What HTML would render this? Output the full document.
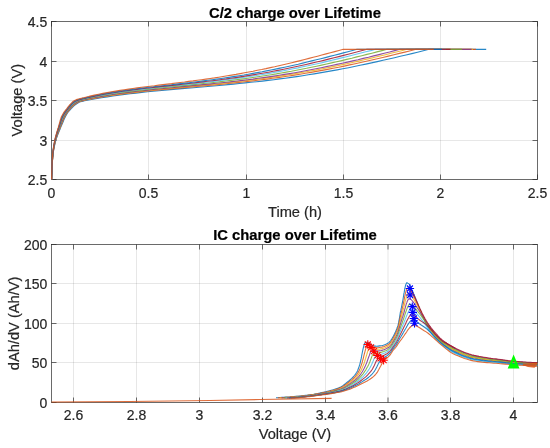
<!DOCTYPE html>
<html><head><meta charset="utf-8"><title>C/2 charge and IC charge over Lifetime</title>
<style>html,body{margin:0;padding:0;background:#fff;overflow:hidden}svg{display:block}</style></head>
<body>
<svg width="550" height="448" viewBox="0 0 550 448">
<rect width="550" height="448" fill="#fff"/>
<path d="M148.5 21.5V179.5M246.5 21.5V179.5M343.5 21.5V179.5M440.5 21.5V179.5M51.5 140.5H537.5M51.5 100.5H537.5M51.5 61.5H537.5" stroke="#262626" stroke-opacity="0.11" stroke-width="1" fill="none"/>
<path d="M73.5 244.5V402.5M136.5 244.5V402.5M199.5 244.5V402.5M262.5 244.5V402.5M325.5 244.5V402.5M388 244.5V402.5M450.5 244.5V402.5M513.5 244.5V402.5M51.5 362.5H537.5M51.5 323.5H537.5M51.5 283.5H537.5" stroke="#262626" stroke-opacity="0.11" stroke-width="1" fill="none"/>
<path d="M51.5 179.5v-5M51.5 21.5v5M148.5 179.5v-5M148.5 21.5v5M246.5 179.5v-5M246.5 21.5v5M343.5 179.5v-5M343.5 21.5v5M440.5 179.5v-5M440.5 21.5v5M537.5 179.5v-5M537.5 21.5v5M51.5 179.5h5M537.5 179.5h-5M51.5 140.5h5M537.5 140.5h-5M51.5 100.5h5M537.5 100.5h-5M51.5 61.5h5M537.5 61.5h-5M51.5 21.5h5M537.5 21.5h-5" stroke="#262626" stroke-width="0.68" fill="none"/>
<path d="M73.5 402.5v-5M73.5 244.5v5M136.5 402.5v-5M136.5 244.5v5M199.5 402.5v-5M199.5 244.5v5M262.5 402.5v-5M262.5 244.5v5M325.5 402.5v-5M325.5 244.5v5M388 402.5v-5M388 244.5v5M450.5 402.5v-5M450.5 244.5v5M513.5 402.5v-5M513.5 244.5v5M51.5 402.5h5M537.5 402.5h-5M51.5 362.5h5M537.5 362.5h-5M51.5 323.5h5M537.5 323.5h-5M51.5 283.5h5M537.5 283.5h-5M51.5 244.5h5M537.5 244.5h-5" stroke="#262626" stroke-width="0.68" fill="none"/>
<rect x="51.5" y="21.5" width="486" height="158" stroke="#262626" stroke-width="0.68" fill="none"/>
<rect x="51.5" y="244.5" width="486" height="158" stroke="#262626" stroke-width="0.68" fill="none"/>
<g fill="none" stroke-width="1.15" stroke-opacity="0.85" stroke-linejoin="round" stroke-linecap="butt">
<path d="M51.6 179.5 51.7 178.1 51.7 176.7 51.8 175.3 51.8 173.9 51.9 172.5 51.9 171.1 52.0 169.7 52.0 168.3 52.1 166.9 52.2 165.5 52.3 164.1 52.3 162.8 52.4 161.4 52.5 160.0 52.7 158.6 52.8 157.2 52.9 155.8 53.1 154.4 53.2 153.0 53.4 151.6 53.6 150.2 53.8 148.9 54.1 147.5 54.4 146.1 54.7 144.8 55.0 143.4 55.3 142.0 55.7 140.7 56.1 139.4 56.5 138.0 57.0 136.7 57.5 135.4 58.0 134.1 58.5 132.8 59.0 131.5 59.5 130.2 60.1 128.9 60.6 127.6 61.1 126.3 61.7 125.0 62.2 123.8 62.8 122.5 63.3 121.2 63.8 119.9 64.4 118.6 65.0 117.4 65.7 116.1 66.3 114.9 67.0 113.7 67.8 112.5 68.7 111.4 69.6 110.4 70.5 109.3 71.5 108.3 72.4 107.3 73.4 106.3 74.5 105.4 75.6 104.5 76.7 103.7 77.9 103.0 79.1 102.3 80.4 101.8 81.8 101.4 83.1 101.1 84.5 100.8 85.9 100.5 87.2 100.3 88.6 100.0 90.0 99.8 95.7 98.8 101.5 97.8 107.2 96.9 113.0 96.0 118.7 95.2 124.5 94.4 130.2 93.7 136.0 93.1 141.7 92.4 147.5 91.8 153.2 91.2 158.9 90.7 164.7 90.2 170.4 89.6 176.2 89.1 181.9 88.6 187.7 88.2 193.4 87.7 199.2 87.2 204.9 86.7 210.7 86.2 216.4 85.7 222.2 85.2 227.9 84.6 233.6 84.1 239.4 83.5 245.1 82.9 250.9 82.3 256.6 81.7 262.4 81.1 268.1 80.4 273.9 79.7 279.6 78.9 285.4 78.2 291.1 77.4 296.8 76.6 302.6 75.7 308.3 74.8 314.1 73.9 319.8 72.9 325.6 71.9 331.3 70.9 337.1 69.9 342.8 68.8 348.6 67.7 354.3 66.5 360.1 65.3 365.8 64.1 371.5 62.9 377.3 61.6 383.0 60.3 388.8 59.0 394.5 57.7 400.3 56.3 406.0 55.0 411.8 53.6 417.5 52.2 423.3 50.7 429.0 49.3 486.2 49.3" stroke="#0072BD"/>
<path d="M51.6 179.5 51.7 178.1 51.7 176.7 51.8 175.3 51.8 173.9 51.9 172.5 51.9 171.1 52.0 169.7 52.0 168.2 52.1 166.8 52.1 165.4 52.2 164.0 52.3 162.6 52.4 161.2 52.5 159.8 52.6 158.4 52.7 157.0 52.9 155.6 53.0 154.2 53.2 152.8 53.3 151.4 53.6 150.0 53.8 148.6 54.0 147.3 54.3 145.9 54.6 144.5 54.9 143.1 55.3 141.8 55.6 140.4 56.0 139.0 56.4 137.7 56.9 136.4 57.3 135.0 57.8 133.7 58.3 132.4 58.8 131.1 59.3 129.8 59.8 128.5 60.4 127.2 60.9 125.9 61.4 124.6 61.9 123.2 62.4 121.9 63.0 120.6 63.5 119.3 64.1 118.1 64.7 116.8 65.4 115.6 66.1 114.3 66.8 113.1 67.6 112.0 68.5 110.9 69.4 109.8 70.3 108.7 71.3 107.7 72.2 106.7 73.2 105.7 74.3 104.8 75.4 103.9 76.6 103.1 77.8 102.4 79.1 101.8 80.4 101.3 81.7 101.0 83.1 100.6 84.5 100.3 85.9 100.0 87.2 99.8 88.6 99.5 90.0 99.2 95.5 98.2 101.1 97.2 106.6 96.3 112.1 95.5 117.6 94.7 123.2 93.9 128.7 93.2 134.2 92.6 139.7 91.9 145.3 91.3 150.8 90.7 156.3 90.2 161.8 89.6 167.4 89.1 172.9 88.6 178.4 88.1 183.9 87.6 189.5 87.1 195.0 86.6 200.5 86.1 206.0 85.6 211.6 85.1 217.1 84.6 222.6 84.1 228.1 83.5 233.7 82.9 239.2 82.4 244.7 81.7 250.2 81.1 255.8 80.5 261.3 79.8 266.8 79.1 272.3 78.3 277.9 77.6 283.4 76.8 288.9 76.0 294.4 75.1 300.0 74.2 305.5 73.3 311.0 72.4 316.5 71.4 322.1 70.4 327.6 69.4 333.1 68.3 338.6 67.2 344.2 66.1 349.7 64.9 355.2 63.7 360.7 62.5 366.3 61.3 371.8 60.0 377.3 58.8 382.8 57.5 388.4 56.1 393.9 54.8 399.4 53.4 404.9 52.1 410.5 50.7 416.0 49.3 476.0 49.3" stroke="#D95319"/>
<path d="M51.6 179.5 51.6 178.1 51.7 176.7 51.7 175.3 51.8 173.8 51.8 172.4 51.9 171.0 51.9 169.6 52.0 168.2 52.1 166.8 52.1 165.4 52.2 164.0 52.3 162.5 52.4 161.1 52.5 159.7 52.6 158.3 52.7 156.9 52.8 155.5 53.0 154.1 53.1 152.7 53.3 151.3 53.5 149.9 53.7 148.5 54.0 147.1 54.3 145.7 54.6 144.3 54.9 142.9 55.2 141.6 55.5 140.2 55.9 138.8 56.3 137.5 56.8 136.1 57.2 134.8 57.7 133.5 58.2 132.1 58.7 130.8 59.2 129.5 59.7 128.2 60.2 126.9 60.7 125.5 61.2 124.2 61.7 122.9 62.2 121.6 62.7 120.3 63.3 119.0 63.9 117.7 64.5 116.4 65.2 115.2 65.9 114.0 66.7 112.8 67.5 111.6 68.4 110.5 69.3 109.4 70.2 108.3 71.1 107.3 72.1 106.3 73.1 105.3 74.2 104.3 75.3 103.5 76.5 102.7 77.7 102.0 79.0 101.5 80.3 101.0 81.7 100.6 83.1 100.3 84.5 100.0 85.8 99.7 87.2 99.4 88.6 99.1 90.0 98.9 95.4 97.8 100.7 96.9 106.1 96.0 111.5 95.1 116.9 94.3 122.2 93.6 127.6 92.9 133.0 92.2 138.4 91.6 143.7 91.0 149.1 90.4 154.5 89.8 159.8 89.3 165.2 88.8 170.6 88.2 176.0 87.7 181.3 87.2 186.7 86.7 192.1 86.2 197.5 85.7 202.8 85.2 208.2 84.7 213.6 84.2 218.9 83.7 224.3 83.1 229.7 82.5 235.1 81.9 240.4 81.3 245.8 80.7 251.2 80.0 256.6 79.4 261.9 78.7 267.3 77.9 272.7 77.2 278.1 76.4 283.4 75.6 288.8 74.7 294.2 73.9 299.5 72.9 304.9 72.0 310.3 71.0 315.7 70.1 321.0 69.0 326.4 68.0 331.8 66.9 337.2 65.8 342.5 64.6 347.9 63.5 353.3 62.3 358.6 61.1 364.0 59.8 369.4 58.6 374.8 57.3 380.1 56.0 385.5 54.7 390.9 53.3 396.3 52.0 401.6 50.7 407.0 49.3 473.0 49.3" stroke="#EDB120"/>
<path d="M51.6 179.5 51.6 178.1 51.7 176.7 51.7 175.2 51.8 173.8 51.8 172.4 51.9 171.0 51.9 169.6 52.0 168.1 52.0 166.7 52.1 165.3 52.2 163.9 52.3 162.5 52.4 161.1 52.5 159.6 52.6 158.2 52.7 156.8 52.8 155.4 53.0 154.0 53.1 152.6 53.3 151.2 53.5 149.8 53.7 148.4 54.0 147.0 54.2 145.6 54.5 144.2 54.8 142.8 55.1 141.4 55.5 140.0 55.9 138.7 56.3 137.3 56.7 136.0 57.2 134.6 57.6 133.3 58.1 131.9 58.6 130.6 59.1 129.3 59.6 127.9 60.1 126.6 60.6 125.3 61.1 124.0 61.5 122.6 62.0 121.3 62.6 120.0 63.1 118.7 63.7 117.4 64.4 116.1 65.0 114.9 65.8 113.7 66.6 112.5 67.4 111.3 68.2 110.2 69.1 109.1 70.1 108.0 71.0 107.0 72.0 105.9 73.0 104.9 74.1 104.0 75.2 103.2 76.4 102.4 77.7 101.8 79.0 101.2 80.3 100.7 81.7 100.4 83.1 100.0 84.4 99.7 85.8 99.4 87.2 99.1 88.6 98.8 90.0 98.5 95.3 97.5 100.5 96.6 105.8 95.7 111.0 94.8 116.3 94.0 121.5 93.3 126.8 92.6 132.0 91.9 137.3 91.3 142.5 90.7 147.8 90.1 153.1 89.5 158.3 89.0 163.6 88.5 168.8 88.0 174.1 87.5 179.3 86.9 184.6 86.4 189.8 85.9 195.1 85.4 200.3 84.9 205.6 84.4 210.8 83.9 216.1 83.3 221.4 82.8 226.6 82.2 231.9 81.6 237.1 81.0 242.4 80.4 247.6 79.7 252.9 79.1 258.1 78.3 263.4 77.6 268.6 76.9 273.9 76.1 279.2 75.3 284.4 74.4 289.7 73.6 294.9 72.7 300.2 71.7 305.4 70.8 310.7 69.8 315.9 68.8 321.2 67.7 326.4 66.6 331.7 65.5 336.9 64.4 342.2 63.3 347.5 62.1 352.7 60.9 358.0 59.7 363.2 58.4 368.5 57.2 373.7 55.9 379.0 54.6 384.2 53.3 389.5 52.0 394.7 50.6 400.0 49.3 471.6 49.3" stroke="#7E2F8E"/>
<path d="M51.6 179.5 51.6 178.1 51.7 176.6 51.7 175.2 51.8 173.8 51.8 172.4 51.9 170.9 51.9 169.5 52.0 168.1 52.0 166.6 52.1 165.2 52.2 163.8 52.2 162.4 52.3 160.9 52.4 159.5 52.5 158.1 52.6 156.6 52.8 155.2 52.9 153.8 53.1 152.4 53.2 151.0 53.4 149.5 53.7 148.1 53.9 146.7 54.2 145.3 54.4 143.9 54.7 142.5 55.1 141.1 55.4 139.7 55.8 138.4 56.2 137.0 56.6 135.6 57.0 134.3 57.5 132.9 58.0 131.5 58.4 130.2 58.9 128.9 59.4 127.5 59.9 126.2 60.3 124.8 60.8 123.5 61.2 122.1 61.7 120.8 62.2 119.4 62.8 118.1 63.4 116.8 64.1 115.6 64.8 114.3 65.5 113.1 66.3 111.9 67.2 110.8 68.1 109.6 69.0 108.5 69.9 107.4 70.8 106.4 71.8 105.3 72.8 104.3 73.9 103.4 75.1 102.6 76.3 101.8 77.6 101.2 78.9 100.7 80.3 100.2 81.6 99.9 83.0 99.5 84.4 99.2 85.8 98.9 87.2 98.6 88.6 98.3 90.0 98.0 95.0 97.0 100.1 96.0 105.1 95.1 110.1 94.3 115.2 93.5 120.2 92.8 125.2 92.1 130.3 91.4 135.3 90.8 140.3 90.2 145.4 89.6 150.4 89.0 155.4 88.5 160.5 88.0 165.5 87.4 170.5 86.9 175.6 86.4 180.6 85.9 185.6 85.4 190.7 84.9 195.7 84.4 200.7 83.8 205.8 83.3 210.8 82.8 215.8 82.2 220.9 81.6 225.9 81.0 230.9 80.4 236.0 79.8 241.0 79.1 246.1 78.5 251.1 77.8 256.1 77.0 261.2 76.3 266.2 75.5 271.2 74.7 276.3 73.9 281.3 73.0 286.3 72.1 291.4 71.2 296.4 70.2 301.4 69.3 306.5 68.3 311.5 67.2 316.5 66.2 321.6 65.1 326.6 64.0 331.6 62.9 336.7 61.7 341.7 60.6 346.7 59.4 351.8 58.2 356.8 56.9 361.8 55.7 366.9 54.4 371.9 53.2 376.9 51.9 382.0 50.6 387.0 49.3 462.0 49.3" stroke="#77AC30"/>
<path d="M51.6 179.5 51.6 178.1 51.7 176.6 51.7 175.2 51.8 173.7 51.8 172.3 51.9 170.9 51.9 169.4 52.0 168.0 52.0 166.6 52.1 165.1 52.1 163.7 52.2 162.2 52.3 160.8 52.4 159.4 52.5 157.9 52.6 156.5 52.7 155.1 52.9 153.6 53.0 152.2 53.2 150.8 53.4 149.4 53.6 147.9 53.9 146.5 54.1 145.1 54.4 143.7 54.7 142.3 55.0 140.9 55.3 139.5 55.7 138.1 56.1 136.7 56.5 135.3 56.9 133.9 57.4 132.6 57.8 131.2 58.3 129.8 58.7 128.5 59.2 127.1 59.7 125.8 60.1 124.4 60.5 123.0 61.0 121.7 61.4 120.3 61.9 119.0 62.5 117.6 63.1 116.3 63.8 115.1 64.5 113.8 65.3 112.6 66.1 111.5 67.0 110.3 67.9 109.2 68.8 108.0 69.7 106.9 70.7 105.9 71.6 104.8 72.7 103.8 73.8 102.8 74.9 102.0 76.2 101.3 77.5 100.7 78.8 100.2 80.2 99.8 81.6 99.4 83.0 99.1 84.4 98.8 85.8 98.5 87.2 98.1 88.6 97.8 90.0 97.5 94.8 96.5 99.7 95.6 104.5 94.7 109.4 93.9 114.2 93.1 119.0 92.3 123.9 91.6 128.7 91.0 133.6 90.3 138.4 89.7 143.2 89.1 148.1 88.6 152.9 88.0 157.7 87.5 162.6 87.0 167.4 86.4 172.3 85.9 177.1 85.4 181.9 84.9 186.8 84.4 191.6 83.9 196.5 83.4 201.3 82.8 206.1 82.3 211.0 81.7 215.8 81.1 220.7 80.5 225.5 79.9 230.3 79.3 235.2 78.6 240.0 77.9 244.8 77.2 249.7 76.5 254.5 75.8 259.4 75.0 264.2 74.2 269.0 73.4 273.9 72.5 278.7 71.6 283.6 70.7 288.4 69.8 293.2 68.8 298.1 67.9 302.9 66.8 307.8 65.8 312.6 64.7 317.4 63.7 322.3 62.6 327.1 61.4 331.9 60.3 336.8 59.1 341.6 57.9 346.5 56.7 351.3 55.5 356.1 54.3 361.0 53.0 365.8 51.8 370.7 50.6 375.5 49.3 446.0 49.3" stroke="#4DBEEE"/>
<path d="M51.6 179.5 51.6 178.1 51.7 176.6 51.7 175.2 51.8 173.7 51.8 172.3 51.8 170.8 51.9 169.4 51.9 167.9 52.0 166.5 52.1 165.1 52.1 163.6 52.2 162.2 52.3 160.7 52.4 159.3 52.5 157.8 52.6 156.4 52.7 155.0 52.8 153.5 53.0 152.1 53.2 150.6 53.4 149.2 53.6 147.8 53.8 146.4 54.1 144.9 54.3 143.5 54.6 142.1 54.9 140.7 55.3 139.3 55.6 137.9 56.0 136.5 56.4 135.1 56.8 133.7 57.3 132.3 57.7 131.0 58.2 129.6 58.6 128.2 59.1 126.8 59.5 125.5 59.9 124.1 60.4 122.7 60.8 121.3 61.2 120.0 61.7 118.6 62.3 117.3 62.9 116.0 63.6 114.7 64.4 113.5 65.2 112.3 66.0 111.1 66.9 109.9 67.8 108.8 68.7 107.7 69.6 106.5 70.5 105.5 71.5 104.4 72.6 103.4 73.6 102.4 74.8 101.6 76.1 100.9 77.4 100.4 78.8 99.9 80.2 99.5 81.6 99.1 83.0 98.8 84.4 98.5 85.8 98.1 87.2 97.8 88.6 97.5 90.0 97.1 94.7 96.1 99.4 95.2 104.1 94.3 108.8 93.5 113.5 92.7 118.2 92.0 122.9 91.3 127.6 90.6 132.3 90.0 136.9 89.4 141.6 88.8 146.3 88.2 151.0 87.7 155.7 87.1 160.4 86.6 165.1 86.1 169.8 85.6 174.5 85.1 179.2 84.6 183.9 84.0 188.6 83.5 193.3 83.0 198.0 82.4 202.7 81.9 207.4 81.3 212.1 80.7 216.8 80.2 221.5 79.5 226.2 78.9 230.8 78.2 235.5 77.6 240.2 76.9 244.9 76.1 249.6 75.4 254.3 74.6 259.0 73.8 263.7 73.0 268.4 72.2 273.1 71.3 277.8 70.4 282.5 69.5 287.2 68.5 291.9 67.5 296.6 66.5 301.3 65.5 306.0 64.5 310.7 63.4 315.4 62.3 320.1 61.2 324.7 60.1 329.4 58.9 334.1 57.8 338.8 56.6 343.5 55.4 348.2 54.2 352.9 53.0 357.6 51.8 362.3 50.5 367.0 49.3 450.5 49.3" stroke="#A2142F"/>
<path d="M51.6 179.5 51.6 178.0 51.7 176.6 51.7 175.1 51.8 173.7 51.8 172.2 51.8 170.8 51.9 169.3 51.9 167.9 52.0 166.4 52.0 165.0 52.1 163.5 52.2 162.1 52.3 160.6 52.3 159.2 52.4 157.7 52.6 156.3 52.7 154.8 52.8 153.4 53.0 151.9 53.1 150.5 53.3 149.0 53.5 147.6 53.8 146.2 54.0 144.7 54.3 143.3 54.6 141.9 54.9 140.5 55.2 139.0 55.5 137.6 55.9 136.2 56.3 134.8 56.7 133.4 57.1 132.0 57.6 130.7 58.0 129.3 58.5 127.9 58.9 126.5 59.3 125.1 59.8 123.7 60.2 122.3 60.6 120.9 61.0 119.6 61.5 118.2 62.1 116.9 62.7 115.5 63.4 114.3 64.1 113.0 65.0 111.8 65.8 110.7 66.7 109.5 67.6 108.4 68.5 107.2 69.4 106.1 70.4 105.0 71.4 104.0 72.4 102.9 73.5 102.0 74.7 101.2 76.0 100.5 77.3 100.0 78.7 99.5 80.1 99.1 81.5 98.8 82.9 98.4 84.4 98.1 85.8 97.7 87.2 97.4 88.6 97.0 90.0 96.7 94.5 95.7 99.1 94.8 103.6 93.9 108.1 93.1 112.6 92.3 117.2 91.6 121.7 90.9 126.2 90.2 130.7 89.6 135.3 89.0 139.8 88.4 144.3 87.8 148.8 87.3 153.4 86.8 157.9 86.2 162.4 85.7 166.9 85.2 171.5 84.7 176.0 84.1 180.5 83.6 185.0 83.1 189.6 82.6 194.1 82.0 198.6 81.5 203.1 80.9 207.7 80.3 212.2 79.7 216.7 79.1 221.2 78.5 225.8 77.8 230.3 77.1 234.8 76.4 239.3 75.7 243.9 75.0 248.4 74.2 252.9 73.4 257.4 72.6 262.0 71.8 266.5 70.9 271.0 70.0 275.5 69.1 280.1 68.1 284.6 67.2 289.1 66.2 293.6 65.2 298.2 64.2 302.7 63.1 307.2 62.0 311.7 60.9 316.3 59.8 320.8 58.7 325.3 57.6 329.8 56.4 334.4 55.2 338.9 54.1 343.4 52.9 347.9 51.7 352.5 50.5 357.0 49.3 441.8 49.3" stroke="#0072BD"/>
<path d="M51.6 179.5 51.6 178.0 51.7 176.6 51.7 175.1 51.7 173.6 51.8 172.2 51.8 170.7 51.9 169.3 51.9 167.8 52.0 166.3 52.0 164.9 52.1 163.4 52.1 161.9 52.2 160.5 52.3 159.0 52.4 157.6 52.5 156.1 52.6 154.6 52.8 153.2 52.9 151.7 53.1 150.3 53.3 148.8 53.5 147.4 53.7 145.9 54.0 144.5 54.2 143.0 54.5 141.6 54.8 140.2 55.1 138.7 55.4 137.3 55.8 135.9 56.2 134.5 56.6 133.1 57.0 131.7 57.4 130.3 57.8 128.9 58.3 127.5 58.7 126.1 59.1 124.7 59.5 123.2 59.9 121.8 60.2 120.4 60.7 119.0 61.1 117.6 61.7 116.3 62.4 115.0 63.1 113.7 63.9 112.4 64.7 111.3 65.6 110.1 66.5 109.0 67.4 107.8 68.3 106.6 69.2 105.5 70.2 104.4 71.2 103.3 72.2 102.3 73.3 101.3 74.6 100.5 75.9 99.9 77.2 99.4 78.6 99.0 80.1 98.6 81.5 98.2 82.9 97.9 84.3 97.6 85.8 97.2 87.2 96.8 88.6 96.5 90.0 96.1 94.3 95.1 98.6 94.2 102.9 93.4 107.2 92.6 111.5 91.8 115.8 91.1 120.1 90.4 124.3 89.7 128.6 89.1 132.9 88.5 137.2 87.9 141.5 87.3 145.8 86.7 150.1 86.2 154.4 85.7 158.7 85.1 163.0 84.6 167.3 84.1 171.6 83.6 175.9 83.0 180.2 82.5 184.5 82.0 188.7 81.4 193.0 80.9 197.3 80.3 201.6 79.7 205.9 79.1 210.2 78.5 214.5 77.9 218.8 77.2 223.1 76.5 227.4 75.8 231.7 75.1 236.0 74.4 240.3 73.6 244.6 72.8 248.8 72.0 253.1 71.2 257.4 70.3 261.7 69.5 266.0 68.6 270.3 67.6 274.6 66.7 278.9 65.7 283.2 64.7 287.5 63.7 291.8 62.7 296.1 61.6 300.4 60.6 304.7 59.5 309.0 58.4 313.2 57.3 317.5 56.2 321.8 55.0 326.1 53.9 330.4 52.8 334.7 51.6 339.0 50.5 343.3 49.3 433.8 49.3" stroke="#D95319"/>
</g>
<g fill="none" stroke-width="1.1" stroke-opacity="0.85" stroke-linejoin="round">
<path d="M276.0 397.8 278.0 397.7 280.0 397.5 282.0 397.4 284.0 397.3 286.0 397.1 288.0 397.0 290.0 396.9 292.0 396.7 293.9 396.6 295.9 396.4 297.9 396.2 299.9 396.0 301.9 395.8 303.9 395.6 305.9 395.3 307.9 395.1 309.8 394.8 311.8 394.5 313.8 394.2 315.8 393.8 317.7 393.5 319.7 393.1 321.6 392.6 323.6 392.2 325.5 391.8 327.5 391.3 329.4 390.8 331.3 390.2 333.3 389.7 335.2 389.1 337.1 388.4 338.9 387.7 340.7 386.9 342.5 385.9 344.1 384.7 345.7 383.5 347.2 382.2 348.8 381.0 350.3 379.7 351.8 378.4 353.2 376.9 354.5 375.5 355.7 373.9 356.8 372.2 357.7 370.4 358.4 368.5 359.1 366.6 359.7 364.7 360.2 362.8 360.6 360.8 361.1 358.9 361.5 356.9 361.8 355.0 362.2 353.0 362.6 351.0 363.0 349.1 363.5 347.1 364.0 345.2 364.6 343.3 364.8 343.2 365.0 343.0 365.1 342.9 365.3 342.7 365.5 342.6 365.7 342.5 365.9 342.4 366.1 342.3 366.4 342.2 366.6 342.2 366.8 342.2 367.0 342.3 367.3 342.3 367.5 342.4 367.7 342.5 367.9 342.6 368.1 342.7 368.3 342.8 368.5 342.9 368.7 343.1 368.9 343.2 369.1 343.3 369.3 343.4 369.5 343.5 369.7 343.6 369.9 343.8 370.1 343.9 370.3 344.0 370.5 344.1 370.7 344.3 370.9 344.4 371.1 344.5 371.3 344.7 371.5 344.8 371.7 344.9 371.9 345.0 372.1 345.1 372.3 345.3 372.5 345.4 372.7 345.5 372.9 345.6 373.1 345.6 373.3 345.7 373.6 345.8 373.8 345.8 374.0 345.9 374.2 345.9 374.5 346.0 374.7 346.0 374.9 346.1 375.2 346.1 375.4 346.1 375.6 346.1 375.8 346.2 376.1 346.2 376.3 346.2 376.5 346.2 376.8 346.3 377.0 346.3 378.3 346.1 379.5 345.9 380.8 345.7 382.1 345.5 383.3 345.2 384.6 344.8 385.8 344.3 386.9 343.8 388.1 343.1 389.1 342.4 390.0 341.5 390.8 340.5 391.5 339.4 392.2 338.3 392.8 337.2 393.5 336.0 394.0 334.9 394.6 333.7 395.2 332.6 395.7 331.4 396.2 330.2 396.7 329.0 397.1 327.8 397.6 326.6 398.0 325.4 398.3 324.1 398.6 322.9 398.8 321.6 399.0 320.3 399.3 319.1 399.5 317.8 399.7 316.5 399.9 315.2 400.1 314.0 400.3 312.7 400.6 311.4 400.9 310.2 401.1 308.9 401.4 307.7 401.6 306.4 401.9 305.1 402.1 303.9 402.4 302.6 402.6 301.3 402.9 300.1 403.1 298.8 403.3 297.5 403.5 296.3 403.7 295.0 403.9 293.7 404.2 292.4 404.4 291.2 404.6 289.9 404.8 288.6 405.1 287.4 405.4 286.1 405.7 284.9 406.2 283.7 406.9 282.6 409.2 284.1 410.6 286.6 411.7 289.3 412.9 291.9 414.0 294.6 415.1 297.2 416.2 299.9 417.2 302.6 418.3 305.3 419.3 308.1 420.5 311.0 421.7 314.0 423.0 317.0 424.3 320.0 425.6 322.9 427.0 325.6 428.5 328.2 430.1 330.7 431.7 333.1 433.5 335.5 435.3 337.6 437.1 339.6 439.1 341.6 441.1 343.3 443.2 345.1 445.4 346.7 447.7 348.4 450.0 350.0 452.5 351.5 455.1 352.7 457.7 354.0 460.5 355.2 463.2 356.3 466.0 357.3 468.8 358.2 471.7 358.9 474.5 359.5 477.4 360.0 480.2 360.4 483.1 360.8 485.9 361.1 488.8 361.4 491.6 361.8 494.5 362.0 497.4 362.2 500.2 362.4 503.1 362.7 506.0 363.1 508.8 363.4 511.7 363.6 514.6 363.8 517.4 364.0 520.3 364.2 523.2 364.4 526.0 364.6 528.9 364.7 531.8 364.9 534.6 365.1 537.5 365.2" stroke="#0072BD"/>
<path d="M277.9 397.8 279.8 397.7 281.8 397.6 283.7 397.5 285.7 397.3 287.6 397.2 289.6 397.1 291.6 396.9 293.5 396.8 295.5 396.6 297.4 396.4 299.4 396.3 301.3 396.1 303.3 395.8 305.2 395.6 307.1 395.4 309.1 395.1 311.0 394.8 313.0 394.6 314.9 394.2 316.8 393.9 318.8 393.6 320.7 393.2 322.6 392.8 324.5 392.4 326.4 392.0 328.3 391.5 330.2 391.0 332.1 390.5 334.0 390.0 335.9 389.4 337.7 388.8 339.6 388.1 341.3 387.3 343.1 386.4 344.7 385.3 346.3 384.2 347.8 383.0 349.4 381.8 350.9 380.6 352.4 379.4 353.8 378.0 355.2 376.6 356.4 375.1 357.5 373.5 358.5 371.9 359.3 370.2 360.1 368.4 360.8 366.6 361.4 364.8 362.0 363.0 362.5 361.2 363.0 359.3 363.5 357.5 363.9 355.6 364.4 353.7 364.9 351.8 365.4 349.9 366.0 348.1 366.6 346.2 366.8 346.1 366.9 345.9 367.1 345.8 367.3 345.6 367.4 345.5 367.6 345.4 367.8 345.2 368.0 345.1 368.2 345.1 368.4 345.0 368.6 345.0 368.8 345.1 369.1 345.1 369.3 345.1 369.4 345.2 369.6 345.3 369.8 345.4 370.0 345.4 370.2 345.5 370.4 345.6 370.6 345.7 370.8 345.7 371.0 345.8 371.2 345.9 371.3 346.0 371.5 346.1 371.7 346.2 371.9 346.3 372.1 346.4 372.2 346.4 372.4 346.5 372.6 346.6 372.8 346.7 373.0 346.8 373.2 346.9 373.4 347.0 373.5 347.1 373.7 347.2 373.9 347.2 374.1 347.3 374.3 347.4 374.5 347.4 374.8 347.5 375.0 347.5 375.2 347.6 375.4 347.6 375.6 347.6 375.8 347.6 376.0 347.7 376.3 347.7 376.5 347.7 376.7 347.7 376.9 347.7 377.1 347.7 377.4 347.7 377.6 347.7 377.8 347.7 378.0 347.7 378.2 347.8 379.4 347.5 380.6 347.3 381.8 347.1 383.0 346.8 384.1 346.5 385.2 346.1 386.3 345.6 387.4 345.0 388.5 344.4 389.4 343.7 390.2 342.8 391.0 341.8 391.7 340.8 392.3 339.8 392.9 338.8 393.5 337.7 394.1 336.6 394.6 335.6 395.2 334.5 395.7 333.4 396.2 332.3 396.7 331.2 397.1 330.0 397.5 328.9 397.9 327.7 398.3 326.6 398.6 325.4 398.8 324.2 399.1 323.1 399.3 321.9 399.5 320.7 399.8 319.5 400.0 318.3 400.2 317.1 400.5 316.0 400.8 314.8 401.1 313.6 401.3 312.4 401.6 311.3 401.9 310.1 402.2 308.9 402.4 307.7 402.7 306.6 403.0 305.4 403.2 304.2 403.5 303.0 403.7 301.8 404.0 300.7 404.2 299.5 404.4 298.3 404.6 297.1 404.9 295.9 405.1 294.7 405.4 293.6 405.7 292.4 406.0 291.2 406.4 290.1 406.9 289.0 407.5 288.0 409.9 289.2 411.3 291.5 412.6 294.0 413.8 296.4 415.0 298.9 416.2 301.4 417.4 303.9 418.6 306.4 419.7 309.1 420.9 311.8 422.1 314.5 423.4 317.3 424.7 320.0 426.1 322.6 427.5 325.1 429.0 327.5 430.5 329.9 432.1 332.2 433.8 334.4 435.5 336.5 437.3 338.5 439.2 340.4 441.2 342.1 443.2 343.7 445.3 345.2 447.5 346.7 449.8 348.1 452.1 349.5 454.5 350.8 457.1 351.9 459.7 353.1 462.4 354.3 465.1 355.3 467.8 356.3 470.5 357.1 473.3 357.8 476.1 358.3 478.8 358.8 481.6 359.2 484.4 359.6 487.2 360.0 490.0 360.3 492.8 360.6 495.6 360.9 498.4 361.1 501.1 361.4 503.9 361.8 506.7 362.1 509.5 362.4 512.3 362.7 515.1 362.9 517.9 363.1 520.7 363.3 523.5 363.5 526.3 363.7 529.1 363.8 531.9 364.0 534.7 364.2 537.5 364.3" stroke="#D95319"/>
<path d="M279.8 397.9 281.7 397.8 283.6 397.6 285.5 397.5 287.4 397.4 289.3 397.3 291.2 397.1 293.1 397.0 295.1 396.8 297.0 396.7 298.9 396.5 300.8 396.3 302.7 396.1 304.6 395.9 306.5 395.7 308.4 395.4 310.3 395.2 312.2 394.9 314.1 394.6 316.0 394.3 317.9 394.0 319.8 393.7 321.7 393.3 323.5 393.0 325.4 392.6 327.3 392.2 329.2 391.7 331.0 391.3 332.9 390.8 334.7 390.3 336.6 389.8 338.4 389.2 340.2 388.5 342.0 387.8 343.7 386.9 345.3 385.9 346.9 384.8 348.4 383.8 350.0 382.7 351.5 381.5 353.0 380.3 354.4 379.1 355.8 377.8 357.1 376.4 358.2 374.9 359.3 373.4 360.2 371.8 361.1 370.2 361.9 368.6 362.6 366.9 363.3 365.2 364.0 363.5 364.6 361.7 365.1 360.0 365.7 358.2 366.2 356.4 366.8 354.5 367.3 352.7 367.9 350.9 368.6 349.1 368.7 349.0 368.9 348.8 369.0 348.7 369.2 348.5 369.3 348.4 369.5 348.2 369.7 348.1 369.9 348.0 370.1 347.9 370.3 347.9 370.5 347.8 370.6 347.8 370.8 347.8 371.0 347.9 371.2 347.9 371.4 347.9 371.6 348.0 371.7 348.0 371.9 348.1 372.1 348.1 372.3 348.1 372.4 348.2 372.6 348.2 372.8 348.3 373.0 348.3 373.1 348.4 373.3 348.4 373.5 348.5 373.6 348.6 373.8 348.6 374.0 348.7 374.1 348.7 374.3 348.8 374.5 348.8 374.7 348.9 374.8 349.0 375.0 349.0 375.2 349.1 375.4 349.1 375.6 349.1 375.8 349.2 376.0 349.2 376.2 349.2 376.4 349.3 376.6 349.3 376.8 349.3 377.0 349.3 377.2 349.3 377.4 349.3 377.6 349.3 377.8 349.3 378.0 349.3 378.2 349.3 378.4 349.3 378.7 349.3 378.9 349.2 379.1 349.2 379.3 349.2 379.5 349.2 380.6 348.9 381.7 348.7 382.7 348.4 383.8 348.1 384.9 347.8 385.9 347.3 386.9 346.8 387.9 346.3 388.8 345.7 389.7 345.0 390.5 344.1 391.2 343.2 391.8 342.3 392.4 341.3 393.0 340.4 393.6 339.4 394.1 338.4 394.7 337.4 395.2 336.4 395.7 335.4 396.2 334.3 396.7 333.3 397.1 332.3 397.5 331.2 397.9 330.1 398.2 329.0 398.5 328.0 398.8 326.9 399.1 325.8 399.4 324.7 399.6 323.6 399.9 322.5 400.1 321.4 400.4 320.3 400.7 319.2 401.0 318.1 401.3 317.1 401.6 316.0 401.9 314.9 402.2 313.8 402.5 312.7 402.8 311.6 403.0 310.5 403.3 309.4 403.6 308.3 403.9 307.2 404.1 306.1 404.4 305.0 404.6 303.9 404.9 302.8 405.1 301.7 405.4 300.7 405.7 299.6 406.0 298.5 406.3 297.4 406.6 296.3 407.0 295.3 407.5 294.3 408.1 293.4 410.5 294.4 412.0 296.5 413.4 298.7 414.7 301.0 416.1 303.3 417.4 305.6 418.7 307.9 419.9 310.4 421.2 312.9 422.4 315.5 423.7 318.0 425.1 320.5 426.5 322.9 427.9 325.3 429.4 327.6 430.9 329.9 432.5 332.1 434.1 334.3 435.8 336.3 437.6 338.2 439.4 340.0 441.3 341.7 443.3 343.2 445.3 344.7 447.4 346.0 449.6 347.4 451.8 348.8 454.1 349.9 456.6 351.1 459.1 352.2 461.6 353.4 464.2 354.4 466.9 355.4 469.6 356.2 472.2 356.9 474.9 357.5 477.6 358.1 480.3 358.5 483.0 358.9 485.8 359.3 488.5 359.6 491.2 360.0 493.9 360.3 496.6 360.5 499.3 360.8 502.1 361.1 504.8 361.5 507.5 361.8 510.2 362.1 513.0 362.4 515.7 362.6 518.4 362.8 521.1 363.0 523.9 363.2 526.6 363.3 529.3 363.5 532.0 363.7 534.8 363.8 537.5 364.0" stroke="#EDB120"/>
<path d="M281.6 397.9 283.5 397.8 285.4 397.7 287.2 397.6 289.1 397.5 291.0 397.3 292.9 397.2 294.7 397.0 296.6 396.9 298.5 396.7 300.3 396.5 302.2 396.3 304.1 396.1 305.9 395.9 307.8 395.7 309.7 395.5 311.5 395.2 313.4 395.0 315.3 394.7 317.1 394.4 319.0 394.1 320.8 393.8 322.7 393.5 324.5 393.1 326.3 392.7 328.2 392.4 330.0 392.0 331.8 391.5 333.7 391.1 335.5 390.6 337.3 390.1 339.1 389.6 340.9 389.0 342.6 388.2 344.3 387.4 345.9 386.5 347.5 385.5 349.0 384.5 350.6 383.5 352.1 382.4 353.6 381.3 355.1 380.2 356.4 379.0 357.8 377.7 359.0 376.3 360.1 374.9 361.1 373.5 362.1 372.0 363.0 370.5 363.8 369.0 364.6 367.4 365.4 365.8 366.1 364.1 366.8 362.5 367.4 360.8 368.0 359.0 368.6 357.3 369.3 355.5 369.9 353.8 370.5 352.0 370.7 351.9 370.8 351.7 371.0 351.5 371.1 351.4 371.3 351.3 371.4 351.1 371.6 351.0 371.7 350.9 371.9 350.8 372.1 350.7 372.3 350.6 372.4 350.6 372.6 350.6 372.8 350.6 373.0 350.6 373.1 350.6 373.3 350.6 373.4 350.6 373.6 350.6 373.8 350.6 373.9 350.6 374.1 350.6 374.2 350.6 374.4 350.7 374.6 350.7 374.7 350.7 374.9 350.7 375.0 350.7 375.2 350.8 375.3 350.8 375.5 350.8 375.7 350.8 375.8 350.8 376.0 350.9 376.1 350.9 376.3 350.9 376.5 350.9 376.7 351.0 376.8 351.0 377.0 351.0 377.2 351.0 377.4 351.0 377.6 351.0 377.8 351.0 378.0 351.0 378.2 351.0 378.4 351.0 378.6 350.9 378.7 350.9 378.9 350.9 379.1 350.9 379.3 350.9 379.5 350.8 379.7 350.8 379.9 350.8 380.1 350.8 380.3 350.7 380.6 350.7 380.8 350.7 381.7 350.4 382.7 350.1 383.7 349.8 384.7 349.4 385.6 349.1 386.6 348.6 387.5 348.1 388.4 347.6 389.2 347.0 390.0 346.3 390.7 345.5 391.4 344.6 392.0 343.7 392.5 342.8 393.1 341.9 393.6 341.0 394.2 340.1 394.7 339.2 395.2 338.3 395.7 337.4 396.2 336.4 396.6 335.4 397.1 334.5 397.5 333.5 397.9 332.5 398.2 331.5 398.5 330.5 398.8 329.5 399.1 328.5 399.4 327.5 399.7 326.5 400.0 325.5 400.3 324.5 400.6 323.5 400.9 322.5 401.2 321.5 401.5 320.5 401.8 319.5 402.1 318.5 402.4 317.5 402.8 316.5 403.1 315.5 403.4 314.5 403.7 313.5 404.0 312.5 404.3 311.5 404.5 310.4 404.8 309.4 405.1 308.4 405.4 307.4 405.6 306.4 405.9 305.4 406.2 304.4 406.5 303.4 406.9 302.4 407.2 301.5 407.6 300.5 408.2 299.6 408.8 298.7 411.1 299.5 412.7 301.4 414.2 303.4 415.7 305.5 417.1 307.7 418.5 309.8 419.9 311.9 421.3 314.1 422.6 316.3 424.0 318.5 425.4 320.6 426.8 322.8 428.3 324.9 429.8 327.1 431.3 329.2 432.8 331.4 434.4 333.4 436.1 335.4 437.8 337.3 439.6 339.0 441.4 340.6 443.4 342.0 445.4 343.3 447.4 344.5 449.5 345.8 451.7 347.0 453.9 348.2 456.2 349.3 458.6 350.5 461.1 351.6 463.6 352.6 466.1 353.6 468.7 354.5 471.3 355.3 473.9 355.9 476.6 356.5 479.2 357.0 481.8 357.4 484.5 357.8 487.1 358.2 489.8 358.6 492.4 359.0 495.0 359.3 497.7 359.6 500.3 359.9 503.0 360.2 505.6 360.6 508.3 361.0 510.9 361.3 513.6 361.5 516.3 361.8 518.9 362.0 521.6 362.1 524.2 362.3 526.9 362.5 529.5 362.6 532.2 362.8 534.8 363.0 537.5 363.1" stroke="#7E2F8E"/>
<path d="M283.5 398.0 285.3 397.9 287.2 397.8 289.0 397.7 290.8 397.5 292.7 397.4 294.5 397.2 296.3 397.1 298.2 396.9 300.0 396.8 301.8 396.6 303.6 396.4 305.5 396.2 307.3 396.0 309.1 395.7 310.9 395.5 312.8 395.3 314.6 395.0 316.4 394.8 318.2 394.5 320.0 394.2 321.8 393.9 323.7 393.6 325.5 393.3 327.3 392.9 329.1 392.6 330.9 392.2 332.7 391.8 334.4 391.4 336.2 390.9 338.0 390.5 339.8 390.0 341.5 389.4 343.2 388.7 344.9 387.9 346.5 387.1 348.0 386.2 349.6 385.3 351.2 384.3 352.7 383.3 354.2 382.3 355.7 381.3 357.1 380.1 358.4 379.0 359.7 377.7 360.9 376.4 362.0 375.1 363.1 373.8 364.1 372.4 365.0 371.0 366.0 369.6 366.8 368.1 367.7 366.5 368.5 365.0 369.2 363.4 369.9 361.7 370.5 360.0 371.2 358.3 371.8 356.6 372.5 354.9 372.6 354.8 372.8 354.6 372.9 354.4 373.0 354.3 373.2 354.1 373.3 354.0 373.5 353.9 373.6 353.7 373.8 353.6 373.9 353.5 374.1 353.5 374.2 353.4 374.4 353.4 374.6 353.3 374.7 353.3 374.8 353.2 375.0 353.2 375.1 353.2 375.3 353.2 375.4 353.1 375.6 353.1 375.7 353.1 375.9 353.1 376.0 353.0 376.2 353.0 376.3 353.0 376.5 353.0 376.6 353.0 376.7 353.0 376.9 353.0 377.0 352.9 377.2 352.9 377.3 352.9 377.5 352.9 377.6 352.9 377.8 352.9 378.0 352.9 378.1 352.8 378.3 352.8 378.5 352.8 378.6 352.8 378.8 352.8 379.0 352.8 379.2 352.7 379.4 352.7 379.5 352.7 379.7 352.6 379.9 352.6 380.1 352.6 380.3 352.5 380.5 352.5 380.7 352.4 380.9 352.4 381.0 352.4 381.2 352.3 381.4 352.3 381.6 352.2 381.8 352.2 382.0 352.1 382.9 351.8 383.8 351.5 384.7 351.1 385.6 350.8 386.4 350.4 387.3 349.9 388.1 349.4 388.9 348.8 389.6 348.2 390.3 347.6 390.9 346.8 391.5 346.0 392.1 345.2 392.6 344.4 393.2 343.5 393.7 342.7 394.2 341.9 394.7 341.0 395.2 340.2 395.7 339.3 396.2 338.5 396.6 337.6 397.1 336.7 397.5 335.8 397.8 334.9 398.2 334.0 398.5 333.1 398.8 332.1 399.2 331.2 399.5 330.3 399.8 329.4 400.1 328.5 400.4 327.6 400.7 326.7 401.1 325.7 401.4 324.8 401.7 323.9 402.1 323.0 402.4 322.1 402.7 321.2 403.0 320.3 403.4 319.3 403.7 318.4 404.0 317.5 404.3 316.6 404.6 315.7 404.9 314.7 405.2 313.8 405.5 312.9 405.8 312.0 406.1 311.1 406.5 310.1 406.8 309.2 407.1 308.3 407.5 307.4 407.9 306.6 408.3 305.7 408.8 304.9 409.4 304.1 411.7 304.7 413.5 306.3 415.1 308.1 416.6 310.1 418.1 312.0 419.7 314.0 421.2 315.9 422.6 317.9 424.1 320.0 425.5 322.0 427.0 324.1 428.5 326.2 430.0 328.3 431.6 330.4 433.2 332.5 434.8 334.5 436.4 336.3 438.1 338.1 439.9 339.8 441.7 341.4 443.5 342.7 445.4 344.0 447.4 345.3 449.5 346.5 451.6 347.8 453.8 348.9 456.0 350.0 458.3 351.1 460.6 352.1 463.1 353.2 465.5 354.1 468.0 355.0 470.5 355.7 473.1 356.4 475.6 357.0 478.2 357.4 480.7 357.9 483.3 358.3 485.9 358.7 488.5 359.0 491.0 359.4 493.6 359.7 496.2 359.9 498.8 360.2 501.3 360.5 503.9 360.8 506.5 361.2 509.1 361.5 511.7 361.8 514.2 362.0 516.8 362.2 519.4 362.4 522.0 362.6 524.6 362.8 527.2 362.9 529.7 363.1 532.3 363.2 534.9 363.4 537.5 363.5" stroke="#77AC30"/>
<path d="M285.4 398.0 287.2 397.9 289.0 397.8 290.8 397.7 292.6 397.6 294.3 397.5 296.1 397.3 297.9 397.1 299.7 397.0 301.5 396.8 303.3 396.6 305.1 396.4 306.9 396.2 308.6 396.0 310.4 395.8 312.2 395.6 314.0 395.3 315.8 395.1 317.5 394.8 319.3 394.6 321.1 394.3 322.9 394.0 324.6 393.7 326.4 393.4 328.2 393.1 329.9 392.8 331.7 392.4 333.5 392.1 335.2 391.7 337.0 391.3 338.7 390.8 340.4 390.3 342.1 389.8 343.8 389.2 345.5 388.5 347.1 387.7 348.6 386.9 350.2 386.0 351.8 385.2 353.3 384.3 354.8 383.3 356.3 382.3 357.7 381.3 359.1 380.2 360.4 379.1 361.7 377.9 362.9 376.8 364.1 375.6 365.2 374.4 366.3 373.1 367.3 371.7 368.3 370.4 369.2 369.0 370.1 367.5 370.9 366.0 371.7 364.4 372.4 362.7 373.1 361.1 373.8 359.4 374.5 357.8 374.6 357.6 374.7 357.5 374.8 357.3 375.0 357.2 375.1 357.0 375.2 356.9 375.3 356.7 375.5 356.6 375.6 356.5 375.8 356.4 375.9 356.3 376.0 356.2 376.2 356.1 376.3 356.0 376.5 356.0 376.6 355.9 376.7 355.8 376.9 355.8 377.0 355.7 377.1 355.7 377.3 355.6 377.4 355.5 377.5 355.5 377.6 355.4 377.8 355.4 377.9 355.3 378.0 355.3 378.2 355.2 378.3 355.2 378.4 355.1 378.6 355.1 378.7 355.0 378.8 355.0 379.0 354.9 379.1 354.9 379.3 354.8 379.4 354.8 379.6 354.7 379.7 354.7 379.9 354.7 380.1 354.6 380.2 354.6 380.4 354.5 380.6 354.5 380.7 354.4 380.9 354.4 381.1 354.3 381.3 354.2 381.5 354.2 381.6 354.1 381.8 354.1 382.0 354.0 382.2 354.0 382.3 353.9 382.5 353.8 382.7 353.8 382.9 353.7 383.1 353.7 383.2 353.6 384.0 353.2 384.8 352.9 385.6 352.5 386.4 352.1 387.2 351.7 387.9 351.2 388.6 350.7 389.3 350.1 390.0 349.5 390.6 348.9 391.2 348.2 391.7 347.4 392.2 346.7 392.7 345.9 393.2 345.1 393.8 344.4 394.3 343.6 394.8 342.9 395.3 342.1 395.7 341.3 396.2 340.5 396.6 339.7 397.0 338.9 397.4 338.1 397.8 337.3 398.2 336.4 398.5 335.6 398.9 334.8 399.2 333.9 399.5 333.1 399.9 332.3 400.2 331.5 400.5 330.7 400.9 329.8 401.2 329.0 401.6 328.2 401.9 327.4 402.3 326.5 402.6 325.7 403.0 324.9 403.3 324.0 403.7 323.2 404.0 322.4 404.4 321.5 404.7 320.7 405.0 319.9 405.3 319.0 405.7 318.2 406.0 317.4 406.3 316.5 406.6 315.7 407.0 314.9 407.3 314.1 407.7 313.3 408.1 312.5 408.5 311.7 408.9 310.9 409.5 310.2 410.0 309.5 412.3 309.9 414.2 311.2 415.9 312.9 417.6 314.6 419.2 316.5 420.8 318.5 422.4 320.6 424.0 322.9 425.6 325.2 427.1 327.4 428.6 329.6 430.2 331.8 431.8 333.9 433.4 335.9 435.1 337.9 436.7 339.7 438.4 341.4 440.1 343.0 441.9 344.5 443.7 346.0 445.6 347.4 447.5 348.9 449.5 350.3 451.6 351.7 453.7 352.8 455.9 353.8 458.1 354.8 460.4 355.7 462.7 356.7 465.1 357.5 467.5 358.3 469.9 359.1 472.4 359.7 474.8 360.2 477.3 360.6 479.8 360.9 482.3 361.2 484.8 361.5 487.3 361.8 489.8 362.0 492.3 362.3 494.8 362.5 497.3 362.6 499.8 362.8 502.3 363.1 504.8 363.3 507.3 363.6 509.9 363.8 512.4 364.0 514.9 364.2 517.4 364.4 519.9 364.6 522.4 364.7 524.9 364.9 527.4 365.0 530.0 365.2 532.5 365.3 535.0 365.4 537.5 365.6" stroke="#4DBEEE"/>
<path d="M287.2 398.0 289.0 398.0 290.8 397.9 292.5 397.8 294.3 397.7 296.0 397.5 297.8 397.4 299.5 397.2 301.3 397.0 303.0 396.8 304.8 396.7 306.5 396.5 308.2 396.3 310.0 396.1 311.7 395.8 313.5 395.6 315.2 395.4 317.0 395.2 318.7 394.9 320.4 394.7 322.2 394.4 323.9 394.1 325.6 393.9 327.4 393.6 329.1 393.3 330.8 393.0 332.6 392.6 334.3 392.3 336.0 392.0 337.7 391.6 339.4 391.2 341.1 390.7 342.8 390.2 344.4 389.6 346.1 389.0 347.7 388.3 349.2 387.5 350.8 386.8 352.4 386.0 353.9 385.2 355.4 384.3 356.9 383.4 358.4 382.5 359.8 381.5 361.1 380.5 362.5 379.4 363.8 378.4 365.1 377.4 366.3 376.3 367.5 375.1 368.6 373.9 369.7 372.7 370.8 371.4 371.8 370.0 372.7 368.6 373.5 367.0 374.3 365.5 375.0 363.9 375.7 362.3 376.4 360.7 376.6 360.5 376.7 360.4 376.8 360.2 376.9 360.1 377.0 359.9 377.1 359.8 377.2 359.6 377.4 359.5 377.5 359.3 377.6 359.2 377.7 359.1 377.8 359.0 378.0 358.9 378.1 358.8 378.2 358.7 378.3 358.6 378.4 358.5 378.6 358.4 378.7 358.3 378.8 358.2 378.9 358.1 379.0 358.0 379.2 357.9 379.3 357.8 379.4 357.7 379.5 357.6 379.6 357.5 379.7 357.5 379.9 357.4 380.0 357.3 380.1 357.2 380.2 357.1 380.4 357.0 380.5 357.0 380.6 356.9 380.8 356.8 380.9 356.7 381.0 356.6 381.2 356.6 381.3 356.5 381.5 356.4 381.7 356.4 381.8 356.3 382.0 356.2 382.1 356.1 382.3 356.1 382.5 356.0 382.6 355.9 382.8 355.8 383.0 355.8 383.1 355.7 383.3 355.6 383.5 355.5 383.6 355.5 383.8 355.4 384.0 355.3 384.2 355.2 384.3 355.1 384.5 355.1 385.2 354.7 385.9 354.3 386.6 353.9 387.3 353.4 388.0 353.0 388.6 352.5 389.2 351.9 389.8 351.4 390.4 350.8 390.9 350.2 391.4 349.5 391.9 348.8 392.4 348.1 392.8 347.4 393.3 346.7 393.8 346.0 394.3 345.4 394.8 344.7 395.3 344.0 395.8 343.3 396.2 342.6 396.6 341.9 397.0 341.1 397.4 340.4 397.8 339.7 398.1 338.9 398.5 338.2 398.9 337.4 399.2 336.7 399.6 335.9 399.9 335.2 400.3 334.5 400.7 333.7 401.1 333.0 401.4 332.3 401.8 331.5 402.2 330.8 402.5 330.1 402.9 329.3 403.3 328.6 403.6 327.8 404.0 327.1 404.3 326.3 404.7 325.6 405.1 324.8 405.4 324.1 405.8 323.3 406.1 322.6 406.4 321.8 406.8 321.1 407.1 320.4 407.5 319.6 407.9 318.9 408.3 318.2 408.7 317.5 409.1 316.8 409.6 316.1 410.1 315.5 410.6 314.9 412.9 315.0 414.9 316.1 416.8 317.6 418.5 319.1 420.2 320.5 421.9 321.6 423.7 322.7 425.4 323.9 427.0 325.3 428.6 326.9 430.3 328.5 431.9 330.3 433.6 332.2 435.2 334.1 436.9 335.9 438.6 337.6 440.4 339.2 442.1 340.7 443.9 341.9 445.8 343.0 447.6 344.1 449.6 345.2 451.6 346.3 453.7 347.5 455.8 348.5 458.0 349.5 460.2 350.6 462.4 351.6 464.7 352.5 467.1 353.3 469.4 354.1 471.8 354.8 474.2 355.4 476.6 355.9 479.0 356.4 481.4 356.8 483.9 357.2 486.3 357.6 488.7 358.0 491.1 358.4 493.6 358.7 496.0 358.9 498.4 359.2 500.9 359.5 503.3 359.9 505.8 360.2 508.2 360.6 510.6 360.9 513.1 361.1 515.5 361.3 518.0 361.5 520.4 361.7 522.8 361.9 525.3 362.0 527.7 362.2 530.2 362.3 532.6 362.5 535.1 362.6 537.5 362.8" stroke="#A2142F"/>
<path d="M289.1 398.1 290.8 398.0 292.6 397.9 294.3 397.9 296.0 397.7 297.7 397.6 299.4 397.4 301.1 397.3 302.8 397.1 304.5 396.9 306.2 396.7 307.9 396.5 309.6 396.3 311.3 396.1 313.0 395.9 314.7 395.7 316.4 395.5 318.1 395.2 319.8 395.0 321.5 394.8 323.2 394.5 324.9 394.3 326.6 394.0 328.3 393.7 330.0 393.4 331.7 393.2 333.4 392.9 335.1 392.6 336.8 392.2 338.5 391.9 340.1 391.5 341.8 391.1 343.4 390.6 345.1 390.1 346.7 389.5 348.3 388.9 349.8 388.2 351.4 387.5 352.9 386.8 354.5 386.1 356.0 385.3 357.5 384.5 359.0 383.7 360.4 382.8 361.9 381.9 363.3 380.9 364.7 380.1 366.1 379.2 367.4 378.2 368.7 377.2 370.0 376.1 371.2 375.0 372.3 373.8 373.4 372.5 374.5 371.1 375.3 369.7 376.1 368.2 376.9 366.7 377.7 365.1 378.4 363.6 378.5 363.4 378.6 363.3 378.7 363.1 378.8 363.0 378.9 362.8 379.0 362.6 379.1 362.5 379.2 362.3 379.3 362.2 379.4 362.0 379.5 361.9 379.6 361.7 379.7 361.6 379.8 361.5 380.0 361.4 380.1 361.2 380.2 361.1 380.3 361.0 380.4 360.8 380.5 360.7 380.6 360.6 380.7 360.5 380.8 360.3 380.9 360.2 381.0 360.1 381.1 359.9 381.2 359.8 381.3 359.7 381.4 359.6 381.5 359.5 381.6 359.3 381.8 359.2 381.9 359.1 382.0 359.0 382.1 358.9 382.2 358.8 382.4 358.6 382.5 358.5 382.6 358.4 382.8 358.3 382.9 358.2 383.1 358.1 383.2 358.0 383.4 357.9 383.5 357.8 383.7 357.7 383.8 357.7 384.0 357.6 384.2 357.5 384.3 357.4 384.5 357.3 384.6 357.2 384.8 357.1 384.9 357.0 385.1 356.9 385.3 356.8 385.4 356.7 385.6 356.6 385.8 356.5 386.4 356.1 387.0 355.7 387.6 355.2 388.2 354.8 388.7 354.3 389.3 353.8 389.8 353.2 390.3 352.7 390.8 352.1 391.2 351.5 391.6 350.8 392.1 350.2 392.5 349.6 392.9 348.9 393.4 348.3 393.9 347.7 394.4 347.1 394.8 346.5 395.3 345.9 395.8 345.3 396.2 344.7 396.6 344.0 397.0 343.4 397.4 342.7 397.8 342.0 398.1 341.4 398.5 340.7 398.9 340.0 399.2 339.4 399.6 338.7 400.0 338.1 400.4 337.5 400.8 336.8 401.2 336.2 401.6 335.5 402.0 334.9 402.4 334.2 402.8 333.6 403.1 332.9 403.5 332.3 403.9 331.6 404.3 330.9 404.7 330.3 405.0 329.6 405.4 329.0 405.8 328.3 406.2 327.7 406.5 327.0 406.9 326.3 407.3 325.7 407.6 325.0 408.0 324.4 408.4 323.7 408.8 323.1 409.3 322.5 409.7 321.9 410.2 321.3 410.7 320.8 411.3 320.2 413.5 320.2 415.6 321.1 417.6 322.3 419.4 323.7 421.2 325.0 423.1 326.2 424.9 327.5 426.7 328.9 428.5 330.5 430.2 332.1 431.9 333.8 433.6 335.6 435.3 337.3 437.1 339.1 438.8 340.7 440.6 342.3 442.3 343.8 444.1 345.2 446.0 346.5 447.8 347.8 449.7 349.0 451.6 350.3 453.7 351.3 455.8 352.3 457.9 353.3 460.1 354.3 462.3 355.2 464.5 356.0 466.8 356.8 469.1 357.5 471.4 358.2 473.7 358.7 476.0 359.1 478.4 359.5 480.7 359.9 483.1 360.2 485.4 360.5 487.8 360.8 490.1 361.0 492.5 361.3 494.9 361.5 497.2 361.7 499.6 361.9 502.0 362.1 504.3 362.4 506.7 362.7 509.1 362.9 511.4 363.2 513.8 363.4 516.2 363.5 518.5 363.7 520.9 363.8 523.3 364.0 525.6 364.1 528.0 364.3 530.4 364.4 532.8 364.6 535.1 364.7 537.5 364.8" stroke="#0072BD"/>
<path d="M291.0 398.1 292.7 398.0 294.3 398.0 296.0 397.9 297.7 397.8 299.4 397.7 301.0 397.5 302.7 397.3 304.4 397.1 306.0 396.9 307.7 396.7 309.4 396.6 311.0 396.4 312.7 396.1 314.3 395.9 316.0 395.7 317.7 395.5 319.3 395.3 321.0 395.1 322.7 394.8 324.3 394.6 326.0 394.4 327.6 394.1 329.3 393.9 330.9 393.6 332.6 393.4 334.2 393.1 335.9 392.8 337.6 392.5 339.2 392.2 340.8 391.9 342.5 391.5 344.1 391.0 345.7 390.5 347.3 390.0 348.9 389.5 350.4 388.9 352.0 388.3 353.5 387.6 355.1 387.0 356.6 386.3 358.1 385.6 359.6 384.8 361.1 384.0 362.6 383.2 364.1 382.5 365.6 381.7 367.1 381.0 368.5 380.1 369.9 379.2 371.3 378.3 372.6 377.3 373.9 376.2 375.1 375.0 376.2 373.7 377.2 372.4 378.0 370.9 378.8 369.5 379.6 368.0 380.4 366.5 380.5 366.3 380.6 366.2 380.7 366.0 380.7 365.8 380.8 365.7 380.9 365.5 381.0 365.4 381.1 365.2 381.2 365.0 381.3 364.9 381.4 364.7 381.4 364.5 381.5 364.4 381.6 364.2 381.7 364.0 381.8 363.9 381.9 363.7 382.0 363.6 382.1 363.4 382.2 363.2 382.2 363.1 382.3 362.9 382.4 362.7 382.5 362.6 382.6 362.4 382.7 362.3 382.8 362.1 382.9 361.9 383.0 361.8 383.1 361.6 383.2 361.5 383.3 361.3 383.4 361.2 383.5 361.0 383.6 360.9 383.7 360.7 383.8 360.6 384.0 360.4 384.1 360.3 384.2 360.2 384.4 360.0 384.5 359.9 384.6 359.8 384.8 359.7 384.9 359.6 385.1 359.4 385.2 359.3 385.4 359.2 385.5 359.1 385.7 359.0 385.8 358.9 385.9 358.8 386.1 358.7 386.2 358.5 386.4 358.4 386.5 358.3 386.7 358.2 386.9 358.1 387.0 358.0 387.5 357.5 388.0 357.1 388.5 356.6 389.0 356.1 389.5 355.6 390.0 355.1 390.4 354.5 390.8 353.9 391.1 353.4 391.5 352.8 391.9 352.2 392.3 351.6 392.6 351.0 393.0 350.4 393.5 349.9 393.9 349.4 394.4 348.9 394.9 348.4 395.3 347.8 395.8 347.3 396.2 346.7 396.6 346.2 397.0 345.6 397.4 345.0 397.7 344.4 398.1 343.8 398.5 343.3 398.9 342.7 399.3 342.1 399.7 341.6 400.1 341.0 400.5 340.5 401.0 339.9 401.4 339.3 401.8 338.8 402.2 338.2 402.6 337.7 403.0 337.1 403.4 336.5 403.8 336.0 404.2 335.4 404.6 334.8 405.0 334.2 405.4 333.7 405.8 333.1 406.2 332.5 406.6 332.0 406.9 331.4 407.3 330.8 407.7 330.2 408.1 329.7 408.5 329.1 409.0 328.5 409.4 328.0 409.9 327.5 410.4 327.0 410.9 326.5 411.4 326.1 411.9 325.6 414.2 325.3 416.4 326.0 418.4 327.0 420.4 328.2 422.3 329.5 424.2 330.7 426.2 331.9 428.1 333.3 429.9 334.7 431.7 336.3 433.5 337.9 435.3 339.5 437.1 341.1 438.9 342.8 440.7 344.4 442.5 345.9 444.3 347.4 446.1 348.9 448.0 350.3 449.8 351.7 451.7 352.9 453.7 353.9 455.8 354.9 457.9 355.8 460.1 356.7 462.2 357.6 464.4 358.4 466.6 359.1 468.8 359.8 471.1 360.4 473.3 360.9 475.6 361.3 477.8 361.6 480.1 361.9 482.4 362.2 484.7 362.4 487.0 362.6 489.3 362.8 491.6 363.0 493.8 363.2 496.1 363.3 498.4 363.5 500.7 363.7 503.0 363.9 505.3 364.1 507.6 364.3 509.9 364.5 512.2 364.7 514.5 364.8 516.8 365.0 519.1 365.1 521.4 365.3 523.7 365.4 526.0 365.5 528.3 365.7 530.6 365.8 532.9 365.9 535.2 366.1 537.5 366.2" stroke="#D95319"/>
<path d="M409.6 287.2 409.7 287.3 409.8 287.5 409.9 287.7 410.0 287.9 410.1 288.1 410.3 288.3 410.4 288.5 410.6 288.8 410.7 289.1 410.9 289.3 411.1 289.6 411.3 289.9 411.4 290.2 411.6 290.5 411.8 290.8 412.0 291.2 412.2 291.5 412.3 291.8 412.5 292.2 412.7 292.5 412.9 292.8 413.0 293.2 413.2 293.6 413.4 294.0 413.6 294.3 413.8 294.7 414.0 295.1 414.2 295.6 414.3 296.0 414.5 296.4 414.7 296.8 414.9 297.3 415.1 297.7 415.3 298.1 415.5 298.6 415.7 299.0 415.9 299.5 416.1 299.9 416.3 300.4 416.5 300.8 416.7 301.2 416.9 301.7 417.1 302.2 417.3 302.6 417.5 303.1 417.7 303.5 417.9 304.0 418.1 304.5 418.3 305.0 418.5 305.5 418.8 305.9 419.0 306.4 419.2 306.9 419.4 307.4 419.6 307.8 419.8 308.3 420.0 308.8 420.3 309.3 420.5 309.7 420.7 310.2 420.9 310.7 421.2 311.1 421.4 311.6 421.6 312.1 421.8 312.5 422.1 313.0 422.3 313.5 422.5 314.0 422.8 314.4 423.0 314.9 423.3 315.4 423.5 315.8 423.7 316.3 424.0 316.7 424.2 317.2 424.5 317.6 424.7 318.1 424.9 318.5 425.2 318.9 425.4 319.3 425.6 319.7 425.9 320.1 426.1 320.5 426.3 320.8 426.5 321.2 426.8 321.6 427.0 321.9 427.2 322.3 427.4 322.6 427.6 322.9 427.9 323.3 428.1 323.6 428.3 323.9 428.5 324.3 428.8 324.6 429.0 324.9 429.3 325.3 429.5 325.6 429.7 326.0 430.0 326.3 430.3 326.6 430.5 327.0 430.8 327.3 431.1 327.7 431.3 328.0 431.6 328.4 431.9 328.7 432.2 329.1 432.5 329.4 432.8 329.8 433.0 330.1 433.3 330.5 433.6 330.8 433.9 331.2 434.2 331.5 434.5 331.9 434.8 332.2 435.1 332.5 435.4 332.9 435.7 333.2 436.0 333.5 436.3 333.9 436.6 334.2 436.9 334.5 437.1 334.9 437.4 335.2 437.7 335.5 438.0 335.8 438.3 336.2 438.6 336.5 438.9 336.8 439.2 337.1 439.5 337.4 439.8 337.8 440.1 338.1 440.4 338.4 440.8 338.7 441.1 339.0 441.4 339.3 441.8 339.6 442.2 339.9 442.5 340.2 442.9 340.5 443.4 340.8 443.8 341.1 444.2 341.4 444.6 341.7 445.1 342.0 445.5 342.3 446.0 342.6 446.4 342.8 446.8 343.1 447.3 343.4 447.7 343.7 448.1 343.9 448.5 344.2 448.9 344.4 449.3 344.7 449.7 344.9 450.0 345.1 450.3 345.3 450.7 345.5 451.0 345.7 451.3 345.9 451.6 346.1 451.9 346.3 452.2 346.5 452.5 346.6 452.8 346.8 453.1 346.9 453.4 347.1 453.6 347.2 453.9 347.4 454.1 347.5 454.3 347.6 454.5 347.7 454.7 347.8 454.9 347.9 455.1 348.0 455.2 348.1" stroke="#A2142F"/>
<path d="M51.5 402 L130 401.5 L210 400.5 L260 399.5 L331.6 398.4" stroke="#D95319"/>
</g>
<path d="M363.6 344.5L372.0 344.5M364.8 341.5L370.8 347.5M367.8 340.3L367.8 348.7M370.8 341.5L364.8 347.5" stroke="#ff0000" stroke-width="1.1" fill="none"/>
<path d="M366.8 347.4L375.2 347.4M368.0 344.4L374.0 350.4M371.0 343.2L371.0 351.6M374.0 344.4L368.0 350.4" stroke="#ff0000" stroke-width="1.1" fill="none"/>
<path d="M369.8 351.2L378.2 351.2M371.0 348.2L377.0 354.2M374.0 347.0L374.0 355.4M377.0 348.2L371.0 354.2" stroke="#ff0000" stroke-width="1.1" fill="none"/>
<path d="M373.2 355.4L381.6 355.4M374.4 352.4L380.4 358.4M377.4 351.2L377.4 359.6M380.4 352.4L374.4 358.4" stroke="#ff0000" stroke-width="1.1" fill="none"/>
<path d="M376.4 358.3L384.8 358.3M377.6 355.3L383.6 361.3M380.6 354.1L380.6 362.5M383.6 355.3L377.6 361.3" stroke="#ff0000" stroke-width="1.1" fill="none"/>
<path d="M379.4 360.2L387.8 360.2M380.6 357.2L386.6 363.2M383.6 356.0L383.6 364.4M386.6 357.2L380.6 363.2" stroke="#ff0000" stroke-width="1.1" fill="none"/>
<path d="M405.7 288.5L414.1 288.5M406.9 285.5L412.9 291.5M409.9 284.3L409.9 292.7M412.9 285.5L406.9 291.5" stroke="#0000ff" stroke-width="1.1" fill="none"/>
<path d="M405.9 295.0L414.3 295.0M407.1 292.0L413.1 298.0M410.1 290.8L410.1 299.2M413.1 292.0L407.1 298.0" stroke="#0000ff" stroke-width="1.1" fill="none"/>
<path d="M408.1 306.6L416.5 306.6M409.3 303.6L415.3 309.6M412.3 302.4L412.3 310.8M415.3 303.6L409.3 309.6" stroke="#0000ff" stroke-width="1.1" fill="none"/>
<path d="M408.6 312.4L417.0 312.4M409.8 309.4L415.8 315.4M412.8 308.2L412.8 316.6M415.8 309.4L409.8 315.4" stroke="#0000ff" stroke-width="1.1" fill="none"/>
<path d="M409.7 318.5L418.1 318.5M410.9 315.5L416.9 321.5M413.9 314.3L413.9 322.7M416.9 315.5L410.9 321.5" stroke="#0000ff" stroke-width="1.1" fill="none"/>
<path d="M410.3 323.2L418.7 323.2M411.5 320.2L417.5 326.2M414.5 319.0L414.5 327.4M417.5 320.2L411.5 326.2" stroke="#0000ff" stroke-width="1.1" fill="none"/>
<path d="M523 363.8 L537 362.4 L537 365 L534.5 367.8 L528 366.9 L523 365.3 Z" fill="#D95319" fill-opacity="0.85"/>
<path d="M513.6 354.4 L519.5 368.6 L507.7 368.6 Z M513.6 360.4 L511.9 363.4 L515.3 363.4 Z" fill="#00ff00" fill-rule="evenodd"/>
<g font-family='"Liberation Sans", Arial, sans-serif'><text x="47.3" y="184.9" text-anchor="end" font-size="14.0" font-weight="normal" fill="#262626" stroke="#262626" stroke-width="0.2">2.5</text>
<text x="47.3" y="145.9" text-anchor="end" font-size="14.0" font-weight="normal" fill="#262626" stroke="#262626" stroke-width="0.2">3</text>
<text x="47.3" y="105.9" text-anchor="end" font-size="14.0" font-weight="normal" fill="#262626" stroke="#262626" stroke-width="0.2">3.5</text>
<text x="47.3" y="66.9" text-anchor="end" font-size="14.0" font-weight="normal" fill="#262626" stroke="#262626" stroke-width="0.2">4</text>
<text x="47.3" y="26.9" text-anchor="end" font-size="14.0" font-weight="normal" fill="#262626" stroke="#262626" stroke-width="0.2">4.5</text>
<text x="51.5" y="197.7" text-anchor="middle" font-size="14.0" font-weight="normal" fill="#262626" stroke="#262626" stroke-width="0.2">0</text>
<text x="148.5" y="197.7" text-anchor="middle" font-size="14.0" font-weight="normal" fill="#262626" stroke="#262626" stroke-width="0.2">0.5</text>
<text x="246.5" y="197.7" text-anchor="middle" font-size="14.0" font-weight="normal" fill="#262626" stroke="#262626" stroke-width="0.2">1</text>
<text x="343.5" y="197.7" text-anchor="middle" font-size="14.0" font-weight="normal" fill="#262626" stroke="#262626" stroke-width="0.2">1.5</text>
<text x="440.5" y="197.7" text-anchor="middle" font-size="14.0" font-weight="normal" fill="#262626" stroke="#262626" stroke-width="0.2">2</text>
<text x="537.5" y="197.7" text-anchor="middle" font-size="14.0" font-weight="normal" fill="#262626" stroke="#262626" stroke-width="0.2">2.5</text>
<text x="47.3" y="407.9" text-anchor="end" font-size="14.0" font-weight="normal" fill="#262626" stroke="#262626" stroke-width="0.2">0</text>
<text x="47.3" y="367.9" text-anchor="end" font-size="14.0" font-weight="normal" fill="#262626" stroke="#262626" stroke-width="0.2">50</text>
<text x="47.3" y="328.9" text-anchor="end" font-size="14.0" font-weight="normal" fill="#262626" stroke="#262626" stroke-width="0.2">100</text>
<text x="47.3" y="288.9" text-anchor="end" font-size="14.0" font-weight="normal" fill="#262626" stroke="#262626" stroke-width="0.2">150</text>
<text x="47.3" y="249.9" text-anchor="end" font-size="14.0" font-weight="normal" fill="#262626" stroke="#262626" stroke-width="0.2">200</text>
<text x="73.5" y="419.9" text-anchor="middle" font-size="14.0" font-weight="normal" fill="#262626" stroke="#262626" stroke-width="0.2">2.6</text>
<text x="136.5" y="419.9" text-anchor="middle" font-size="14.0" font-weight="normal" fill="#262626" stroke="#262626" stroke-width="0.2">2.8</text>
<text x="199.5" y="419.9" text-anchor="middle" font-size="14.0" font-weight="normal" fill="#262626" stroke="#262626" stroke-width="0.2">3</text>
<text x="262.5" y="419.9" text-anchor="middle" font-size="14.0" font-weight="normal" fill="#262626" stroke="#262626" stroke-width="0.2">3.2</text>
<text x="325.5" y="419.9" text-anchor="middle" font-size="14.0" font-weight="normal" fill="#262626" stroke="#262626" stroke-width="0.2">3.4</text>
<text x="388" y="419.9" text-anchor="middle" font-size="14.0" font-weight="normal" fill="#262626" stroke="#262626" stroke-width="0.2">3.6</text>
<text x="450.5" y="419.9" text-anchor="middle" font-size="14.0" font-weight="normal" fill="#262626" stroke="#262626" stroke-width="0.2">3.8</text>
<text x="513.5" y="419.9" text-anchor="middle" font-size="14.0" font-weight="normal" fill="#262626" stroke="#262626" stroke-width="0.2">4</text>
<text x="295" y="216.6" text-anchor="middle" font-size="14.67" font-weight="normal" fill="#262626" stroke="#262626" stroke-width="0.2">Time (h)</text>
<text x="295" y="438.8" text-anchor="middle" font-size="14.67" font-weight="normal" fill="#262626" stroke="#262626" stroke-width="0.2">Voltage (V)</text>
<text x="295" y="17.9" text-anchor="middle" font-size="14.8" font-weight="bold" fill="#000" stroke="#000" stroke-width="0.2">C/2 charge over Lifetime</text>
<text x="295" y="240.4" text-anchor="middle" font-size="14.8" font-weight="bold" fill="#000" stroke="#000" stroke-width="0.2">IC charge over Lifetime</text>
<text x="21.8" y="100.2" text-anchor="middle" font-size="14.67" font-weight="normal" fill="#262626" stroke="#262626" stroke-width="0.2" transform="rotate(-90 21.8 100.2)">Voltage (V)</text>
<text x="19.4" y="323.4" text-anchor="middle" font-size="14.67" font-weight="normal" fill="#262626" stroke="#262626" stroke-width="0.2" transform="rotate(-90 19.4 323.4)">dAh/dV (Ah/V)</text></g></svg>
</body></html>
